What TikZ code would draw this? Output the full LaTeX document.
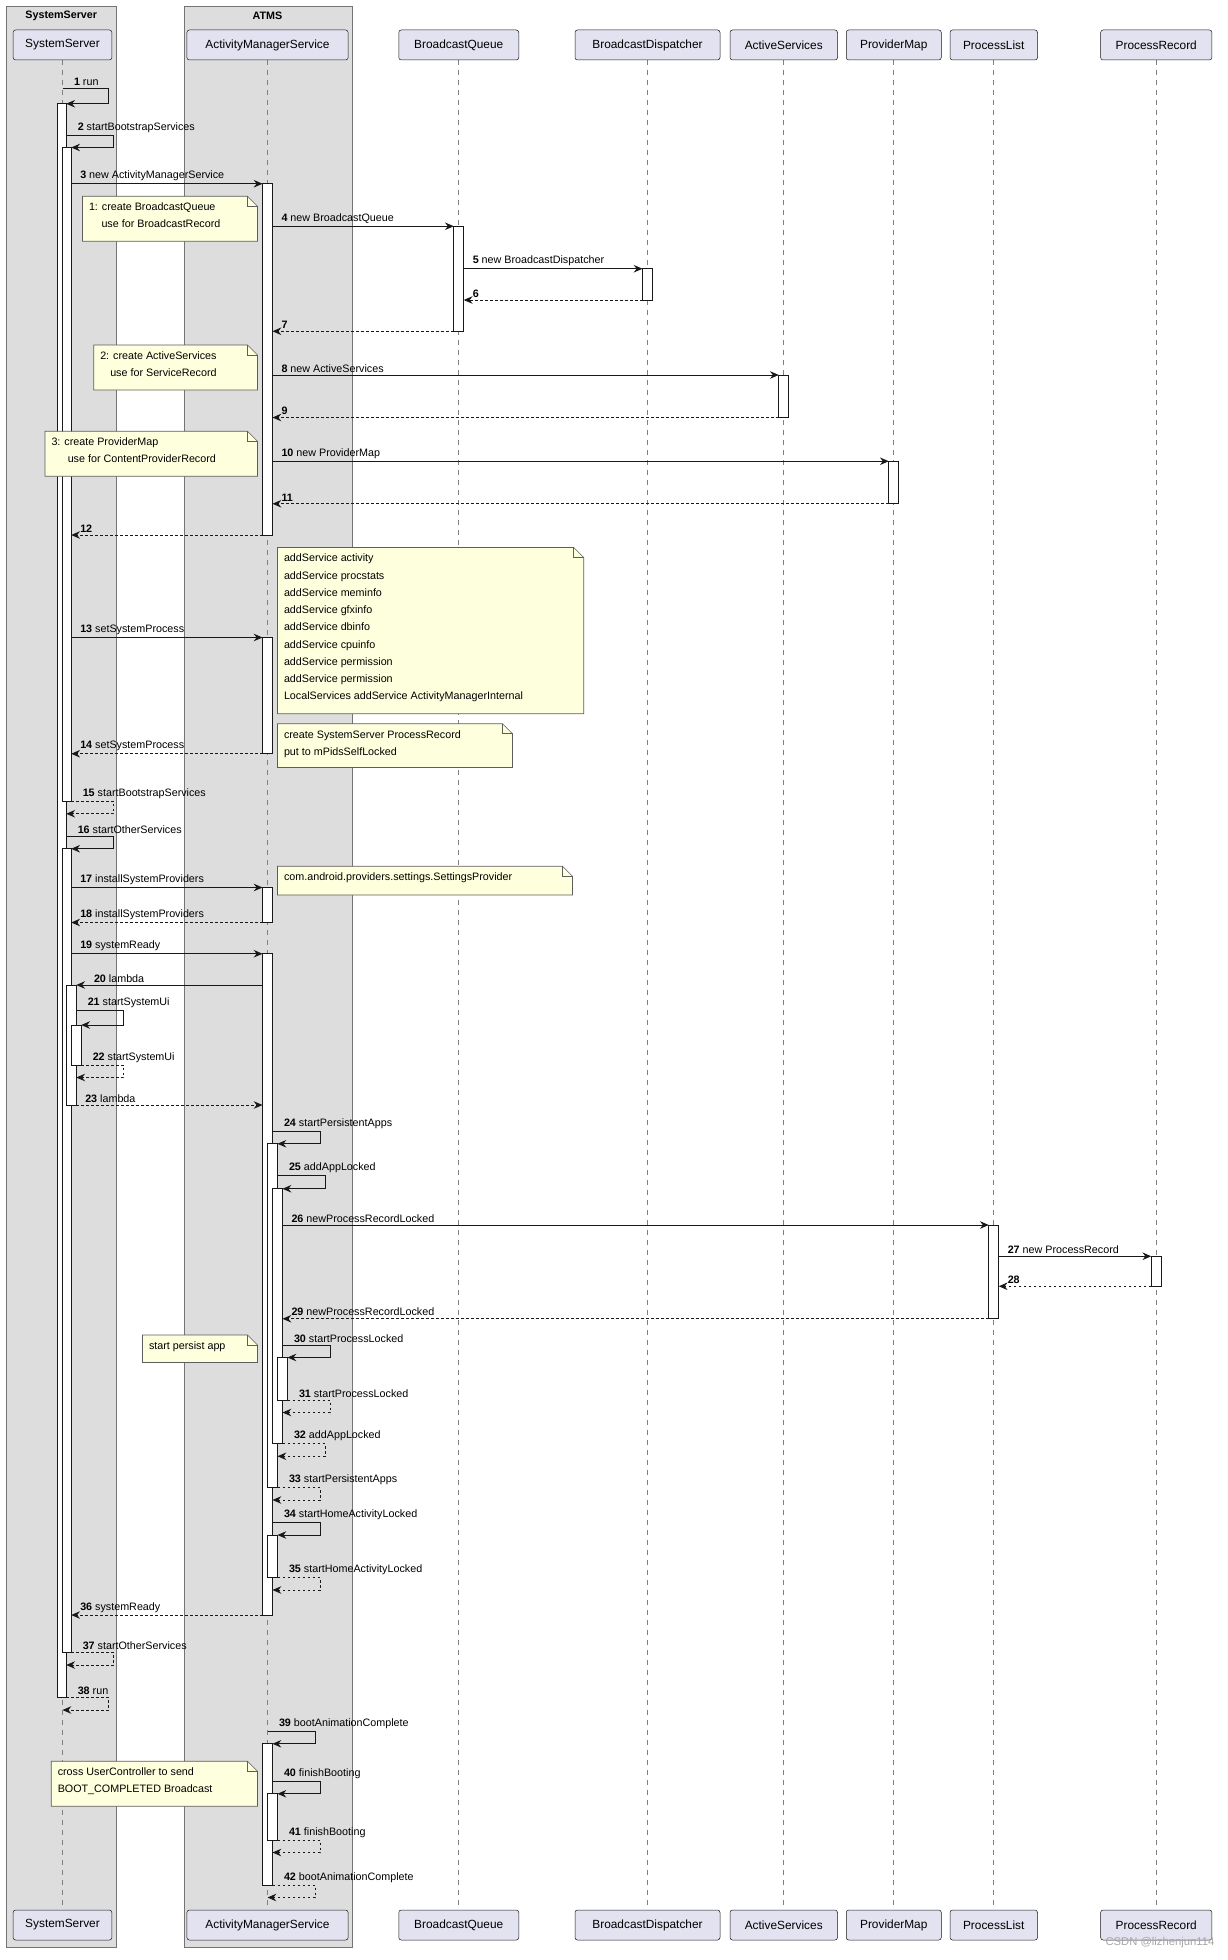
\documentclass[tikz,border=0pt]{standalone}
\usepackage{fontspec}
\setmainfont{Liberation Sans}
\usetikzlibrary{arrows.meta}
\definecolor{grp}{HTML}{DDDDDD}
\definecolor{part}{HTML}{E2E2F0}
\definecolor{notec}{HTML}{FEFFDD}
\definecolor{ln}{HTML}{181818}
\tikzset{
 tip/.style={-{Stealth[length=7pt,width=6pt]}},
 solidm/.style={tip,draw=ln,line width=0.7pt},
 dashm/.style={tip,draw=ln,line width=0.7pt,dash pattern=on 2pt off 2pt},
 lbl/.style={anchor=south west,inner sep=1pt,font=\fontsize{8.6}{10}\selectfont},
 pbox/.style={draw=ln,fill=part,rounded corners=2pt,minimum height=24pt,inner sep=2pt,font=\fontsize{9.5}{11}\selectfont},
 act/.style={draw=ln,fill=white,line width=0.7pt},
 life/.style={draw=gray,dash pattern=on 4pt off 4pt,line width=0.6pt},
 notet/.style={font=\fontsize{8.6}{13.8}\selectfont,align=left,anchor=north west,inner sep=0pt},
}
\newcommand\smsg[6]{% y x1 x2 num text style
 \draw[#6] (#2,#1) -- (#3,#1);
 \pgfmathsetmacro\lx{min(#2,#3)+6}
 \node[lbl] at (\lx,#1-1) {\textbf{#4} #5};}
\newcommand\sself[7]{% y x xout y2 xback num text ; style = #8? use #7 label
 \draw[#7] (#2,#1) -- (#3,#1) -- (#3,#4) -- (#5,#4);
 \pgfmathsetmacro\lx{#2+8}
 \node[lbl] at (\lx,#1-1) {\textbf{#6}};}
\newcommand\nt[5]{% x1 y1 x2 y2 text
 \draw[draw=ln!70,fill=notec,line width=0.5pt] (#1,#2) -- (#3-8,#2) -- (#3,#2+8) -- (#3,#4) -- (#1,#4) -- cycle;
 \draw[draw=ln!70,line width=0.5pt] (#3-8,#2) -- (#3-8,#2+8) -- (#3,#2+8);
 \node[notet] at (#1+5,#2+5) {#5};}
\begin{document}
\begin{tikzpicture}[x=1pt,y=-1pt]
\useasboundingbox (0,0) rectangle (982,1568);
% groups
\draw[fill=grp,draw=ln!60] (5,5) rectangle (93,1558);
\draw[fill=grp,draw=ln!60] (147,5) rectangle (282,1558);
\node[font=\fontsize{8.6}{10}\selectfont\bfseries] at (49,13) {SystemServer};
\node[font=\fontsize{8.6}{10}\selectfont\bfseries] at (214,13) {ATMS};
% lifelines
\foreach \x in {50,214,367,518,627,715,795,925} \draw[life] (\x,48) -- (\x,1528);
% participants
\foreach \x/\w/\t [count=\i] in {50/79/SystemServer,214/129/ActivityManagerService,367/96/BroadcastQueue,518/116/BroadcastDispatcher,627/86/ActiveServices,715/76/ProviderMap,795/70/ProcessList,925/89/ProcessRecord}{
 \node[pbox,minimum width=\w pt] (t\i) at (\x,36) {\t};
 \node[pbox,minimum width=\w pt] (b\i) at (\x,1540) {\t};}
% activations
\draw[act] (46,83) rectangle (53,1358);
\draw[act] (50,118) rectangle (57,641);
\draw[act] (50,679) rectangle (57,1322);
\draw[act] (53,788) rectangle (61,884);
\draw[act] (57,820) rectangle (65,852);
\draw[act] (210,147) rectangle (218,428);
\draw[act] (210,510) rectangle (218,603);
\draw[act] (210,710) rectangle (218,738);
\draw[act] (210,763) rectangle (218,1292);
\draw[act] (214,915) rectangle (222,1190);
\draw[act] (218,951) rectangle (226,1155);
\draw[act] (222,1086) rectangle (230,1120);
\draw[act] (214,1228) rectangle (222,1262);
\draw[act] (210,1395) rectangle (218,1508);
\draw[act] (214,1435) rectangle (222,1472);
\draw[act] (363,181) rectangle (371,265);
\draw[act] (514,215) rectangle (522,240);
\draw[act] (623,300) rectangle (631,334);
\draw[act] (711,369) rectangle (719,403);
\draw[act] (791,980) rectangle (799,1055);
\draw[act] (921,1005) rectangle (929,1029);
% messages
\sself{71}{50}{87}{83}{53}{1 \textmd{run}}{solidm}
\sself{108}{53}{91}{118}{57}{2 \textmd{startBootstrapServices}}{solidm}
\smsg{147}{57}{210}{3}{new ActivityManagerService}{solidm}
\smsg{181}{218}{363}{4}{new BroadcastQueue}{solidm}
\smsg{215}{371}{514}{5}{new BroadcastDispatcher}{solidm}
\smsg{240}{514}{371}{6}{}{dashm}
\smsg{265}{363}{218}{7}{}{dashm}
\smsg{300}{218}{623}{8}{new ActiveServices}{solidm}
\smsg{334}{623}{218}{9}{}{dashm}
\smsg{369}{218}{711}{10}{new ProviderMap}{solidm}
\smsg{403}{711}{218}{11}{}{dashm}
\smsg{428}{210}{57}{12}{}{dashm}
\smsg{510}{57}{210}{13}{setSystemProcess}{solidm}
\smsg{603}{210}{57}{14}{setSystemProcess}{dashm}
\sself{641}{57}{91}{651}{53}{15 \textmd{startBootstrapServices}}{dashm}
\sself{669}{53}{91}{679}{57}{16 \textmd{startOtherServices}}{solidm}
\smsg{710}{57}{210}{17}{installSystemProviders}{solidm}
\smsg{738}{210}{57}{18}{installSystemProviders}{dashm}
\smsg{763}{57}{210}{19}{systemReady}{solidm}
\draw[solidm] (210,788) -- (61,788);
\node[lbl] at (74,787) {\textbf{20} lambda};
\sself{808}{61}{99}{820}{65}{21 \textmd{startSystemUi}}{solidm}
\sself{852}{65}{99}{862}{61}{22 \textmd{startSystemUi}}{dashm}
\smsg{884}{61}{210}{23}{lambda}{dashm}
\sself{905}{218}{256}{915}{222}{24 \textmd{startPersistentApps}}{solidm}
\sself{940}{222}{260}{951}{226}{25 \textmd{addAppLocked}}{solidm}
\smsg{980}{226}{791}{26}{newProcessRecordLocked}{solidm}
\smsg{1005}{799}{921}{27}{new ProcessRecord}{solidm}
\smsg{1029}{921}{799}{28}{}{dashm}
\smsg{1055}{791}{226}{29}{newProcessRecordLocked}{dashm}
\sself{1076}{226}{264}{1086}{230}{30 \textmd{startProcessLocked}}{solidm}
\sself{1120}{230}{264}{1130}{226}{31 \textmd{startProcessLocked}}{dashm}
\sself{1155}{226}{260}{1165}{222}{32 \textmd{addAppLocked}}{dashm}
\sself{1190}{222}{256}{1200}{218}{33 \textmd{startPersistentApps}}{dashm}
\sself{1218}{218}{256}{1228}{222}{34 \textmd{startHomeActivityLocked}}{solidm}
\sself{1262}{222}{256}{1272}{218}{35 \textmd{startHomeActivityLocked}}{dashm}
\smsg{1292}{210}{57}{36}{systemReady}{dashm}
\sself{1322}{57}{91}{1332}{53}{37 \textmd{startOtherServices}}{dashm}
\sself{1358}{53}{87}{1368}{50}{38 \textmd{run}}{dashm}
\sself{1385}{214}{252}{1395}{218}{39 \textmd{bootAnimationComplete}}{solidm}
\sself{1425}{218}{256}{1435}{222}{40 \textmd{finishBooting}}{solidm}
\sself{1472}{222}{256}{1482}{218}{41 \textmd{finishBooting}}{dashm}
\sself{1508}{218}{252}{1518}{214}{42 \textmd{bootAnimationComplete}}{dashm}
% notes
\nt{66}{157}{206}{193}{\hspace*{0pt}1: create BroadcastQueue\\\hspace*{10pt}use for BroadcastRecord}
\nt{75}{276}{206}{312}{2: create ActiveServices\\\hspace*{8pt}use for ServiceRecord}
\nt{36}{345}{206}{381}{3: create ProviderMap\\\hspace*{13pt}use for ContentProviderRecord}
\nt{222}{438}{467}{571}{addService activity\\addService procstats\\addService meminfo\\addService gfxinfo\\addService dbinfo\\addService cpuinfo\\addService permission\\addService permission\\LocalServices addService ActivityManagerInternal}
\nt{222}{579}{410}{614}{create SystemServer ProcessRecord\\put to mPidsSelfLocked}
\nt{222}{693}{458}{716}{com.android.providers.settings.SettingsProvider}
\nt{114}{1068}{206}{1090}{start persist app}
\nt{41}{1409}{206}{1445}{cross UserController to send\\BOOT\_COMPLETED Broadcast}
\node[anchor=south east,font=\fontsize{9}{10}\selectfont,text=gray!70] at (975,1562) {CSDN @lizhenjun114};
\end{tikzpicture}
\end{document}
